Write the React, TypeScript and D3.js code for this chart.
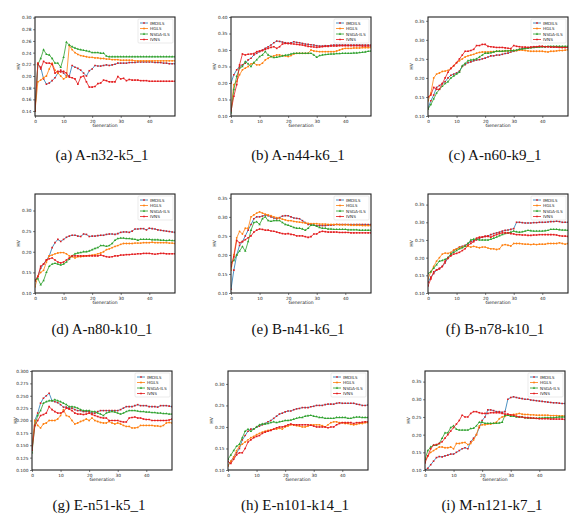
import React, { useEffect, useRef } from 'react';
import * as d3 from 'd3';

// series names, drawn in this order (IVNS ends on top)
const seriesNames = ['IMOILS', 'HGLS', 'NSGA-ILS', 'IVNS'];
const panelTags = ['(a)', '(b)', '(c)', '(d)', '(e)', '(f)', '(g)', '(h)', '(i)'];
const panelNames = ['A-n32-k5_1', 'A-n44-k6_1', 'A-n60-k9_1', 'A-n80-k10_1', 'B-n41-k6_1', 'B-n78-k10_1', 'E-n51-k5_1', 'E-n101-k14_1', 'M-n121-k7_1'];

// y axis limits and ticks per panel
const yLimits = [[0.1315, 0.301], [0.10, 0.40], [0.10, 0.36], [0.10, 0.34], [0.10, 0.36], [0.10, 0.38], [0.10, 0.30], [0.10, 0.33], [0.10, 0.38]];
const yTickValues = [
    [0.14, 0.16, 0.18, 0.20, 0.22, 0.24, 0.26, 0.28, 0.30],
    [0.10, 0.15, 0.20, 0.25, 0.30, 0.35, 0.40],
    [0.10, 0.15, 0.20, 0.25, 0.30, 0.35],
    [0.10, 0.15, 0.20, 0.25, 0.30],
    [0.10, 0.15, 0.20, 0.25, 0.30, 0.35],
    [0.10, 0.15, 0.20, 0.25, 0.30, 0.35],
    [0.100, 0.125, 0.150, 0.175, 0.200, 0.225, 0.250, 0.275, 0.300],
    [0.10, 0.15, 0.20, 0.25, 0.30],
    [0.10, 0.15, 0.20, 0.25, 0.30, 0.35],
];
const xTickValues = [0, 10, 20, 30, 40];

// HV per generation (0..49)
const aIMOILS = [0.14, 0.22, 0.215, 0.195, 0.186, 0.188, 0.192, 0.197, 0.205, 0.21, 0.205, 0.2, 0.2, 0.218, 0.215, 0.213, 0.21, 0.205, 0.2, 0.209, 0.212, 0.218, 0.217, 0.217, 0.218, 0.219, 0.218, 0.219, 0.22, 0.222, 0.222, 0.222, 0.222, 0.223, 0.223, 0.223, 0.224, 0.224, 0.224, 0.224, 0.224, 0.224, 0.223, 0.223, 0.223, 0.222, 0.222, 0.221, 0.221, 0.221];
const aHGLS = [0.14, 0.19, 0.193, 0.197, 0.2, 0.212, 0.222, 0.21, 0.205, 0.2, 0.195, 0.198, 0.252, 0.245, 0.24, 0.237, 0.235, 0.234, 0.233, 0.232, 0.232, 0.231, 0.231, 0.23, 0.23, 0.229, 0.229, 0.228, 0.228, 0.228, 0.227, 0.227, 0.227, 0.227, 0.227, 0.226, 0.226, 0.226, 0.226, 0.226, 0.226, 0.226, 0.226, 0.226, 0.226, 0.226, 0.226, 0.226, 0.226, 0.226];
const aNSGA = [0.14, 0.22, 0.23, 0.245, 0.237, 0.236, 0.23, 0.222, 0.222, 0.215, 0.232, 0.258, 0.253, 0.25, 0.248, 0.246, 0.245, 0.244, 0.243, 0.242, 0.24, 0.24, 0.24, 0.239, 0.239, 0.234, 0.233, 0.233, 0.233, 0.233, 0.233, 0.233, 0.233, 0.233, 0.233, 0.233, 0.233, 0.233, 0.233, 0.233, 0.233, 0.233, 0.233, 0.233, 0.233, 0.233, 0.233, 0.233, 0.233, 0.233];
const aIVNS = [0.14, 0.222, 0.212, 0.225, 0.222, 0.222, 0.22, 0.205, 0.208, 0.207, 0.208, 0.205, 0.198, 0.197, 0.195, 0.186, 0.198, 0.2, 0.19, 0.181, 0.181, 0.182, 0.187, 0.188, 0.193, 0.192, 0.19, 0.19, 0.19, 0.199, 0.195, 0.196, 0.192, 0.194, 0.193, 0.193, 0.193, 0.192, 0.192, 0.192, 0.191, 0.191, 0.191, 0.191, 0.191, 0.191, 0.191, 0.191, 0.191, 0.191];

const bIMOILS = [0.2, 0.225, 0.24, 0.25, 0.255, 0.26, 0.27, 0.275, 0.285, 0.29, 0.295, 0.3, 0.305, 0.31, 0.315, 0.322, 0.327, 0.326, 0.324, 0.322, 0.32, 0.322, 0.325, 0.323, 0.322, 0.32, 0.318, 0.317, 0.316, 0.315, 0.313, 0.312, 0.312, 0.313, 0.313, 0.314, 0.315, 0.315, 0.315, 0.315, 0.315, 0.315, 0.315, 0.315, 0.315, 0.315, 0.315, 0.315, 0.315, 0.315];
const bHGLS = [0.12, 0.195, 0.205, 0.225, 0.24, 0.245, 0.25, 0.258, 0.26, 0.255, 0.255, 0.26, 0.27, 0.275, 0.28, 0.282, 0.285, 0.285, 0.283, 0.282, 0.28, 0.283, 0.288, 0.29, 0.29, 0.29, 0.29, 0.29, 0.3, 0.297, 0.296, 0.295, 0.295, 0.295, 0.295, 0.295, 0.295, 0.297, 0.3, 0.303, 0.305, 0.305, 0.305, 0.306, 0.306, 0.306, 0.307, 0.307, 0.307, 0.307];
const bNSGA = [0.11, 0.18, 0.22, 0.245, 0.25, 0.265, 0.258, 0.25, 0.262, 0.27, 0.28, 0.285, 0.295, 0.285, 0.28, 0.277, 0.278, 0.28, 0.282, 0.284, 0.285, 0.288, 0.29, 0.29, 0.29, 0.29, 0.29, 0.29, 0.29, 0.285, 0.278, 0.283, 0.285, 0.286, 0.287, 0.288, 0.288, 0.289, 0.289, 0.29, 0.29, 0.29, 0.29, 0.291, 0.291, 0.292, 0.293, 0.294, 0.296, 0.297];
const bIVNS = [0.115, 0.16, 0.195, 0.255, 0.288, 0.285, 0.287, 0.288, 0.289, 0.295, 0.297, 0.298, 0.302, 0.305, 0.308, 0.31, 0.305, 0.31, 0.318, 0.32, 0.32, 0.319, 0.318, 0.317, 0.316, 0.315, 0.313, 0.311, 0.31, 0.309, 0.308, 0.309, 0.31, 0.311, 0.311, 0.312, 0.312, 0.312, 0.313, 0.313, 0.313, 0.313, 0.313, 0.313, 0.313, 0.313, 0.312, 0.312, 0.312, 0.312];

const cIMOILS = [0.12, 0.14, 0.155, 0.175, 0.18, 0.185, 0.19, 0.2, 0.207, 0.21, 0.213, 0.218, 0.23, 0.235, 0.24, 0.242, 0.245, 0.247, 0.248, 0.25, 0.252, 0.255, 0.258, 0.258, 0.26, 0.26, 0.262, 0.264, 0.265, 0.268, 0.27, 0.272, 0.275, 0.277, 0.278, 0.28, 0.28, 0.281, 0.281, 0.282, 0.282, 0.282, 0.282, 0.282, 0.281, 0.281, 0.281, 0.28, 0.28, 0.28];
const cHGLS = [0.14, 0.16, 0.2, 0.21, 0.213, 0.217, 0.218, 0.22, 0.225, 0.232, 0.24, 0.245, 0.25, 0.255, 0.258, 0.26, 0.262, 0.265, 0.267, 0.268, 0.268, 0.268, 0.269, 0.269, 0.27, 0.27, 0.27, 0.271, 0.271, 0.272, 0.272, 0.272, 0.273, 0.273, 0.272, 0.271, 0.27, 0.27, 0.27, 0.27, 0.27, 0.269, 0.268, 0.27, 0.27, 0.271, 0.272, 0.272, 0.273, 0.274];
const cNSGA = [0.118, 0.13, 0.145, 0.16, 0.17, 0.178, 0.185, 0.19, 0.2, 0.205, 0.21, 0.215, 0.232, 0.238, 0.245, 0.247, 0.248, 0.25, 0.255, 0.26, 0.265, 0.265, 0.266, 0.268, 0.27, 0.27, 0.27, 0.271, 0.271, 0.272, 0.272, 0.273, 0.275, 0.276, 0.277, 0.278, 0.279, 0.28, 0.281, 0.281, 0.282, 0.282, 0.283, 0.283, 0.283, 0.283, 0.283, 0.283, 0.283, 0.283];
const cIVNS = [0.15, 0.155, 0.175, 0.17, 0.17, 0.185, 0.2, 0.215, 0.225, 0.232, 0.24, 0.25, 0.26, 0.27, 0.27, 0.272, 0.275, 0.285, 0.285, 0.288, 0.288, 0.283, 0.282, 0.281, 0.28, 0.28, 0.28, 0.279, 0.278, 0.277, 0.285, 0.283, 0.282, 0.281, 0.281, 0.28, 0.281, 0.282, 0.282, 0.283, 0.283, 0.282, 0.282, 0.281, 0.281, 0.281, 0.28, 0.28, 0.28, 0.28];

const dIMOILS = [0.13, 0.14, 0.16, 0.17, 0.18, 0.19, 0.21, 0.222, 0.23, 0.225, 0.23, 0.235, 0.238, 0.24, 0.24, 0.238, 0.237, 0.243, 0.242, 0.237, 0.238, 0.238, 0.239, 0.24, 0.24, 0.242, 0.243, 0.243, 0.242, 0.244, 0.247, 0.248, 0.248, 0.247, 0.25, 0.255, 0.255, 0.256, 0.256, 0.253, 0.257, 0.256, 0.255, 0.253, 0.252, 0.251, 0.25, 0.249, 0.248, 0.247];
const dHGLS = [0.115, 0.14, 0.15, 0.155, 0.175, 0.19, 0.192, 0.195, 0.197, 0.198, 0.198, 0.195, 0.19, 0.188, 0.185, 0.188, 0.188, 0.189, 0.19, 0.191, 0.192, 0.193, 0.195, 0.197, 0.2, 0.205, 0.207, 0.21, 0.213, 0.215, 0.218, 0.22, 0.22, 0.22, 0.22, 0.221, 0.221, 0.221, 0.222, 0.222, 0.222, 0.223, 0.222, 0.222, 0.222, 0.222, 0.222, 0.221, 0.221, 0.22];
const dNSGA = [0.13, 0.135, 0.12, 0.13, 0.15, 0.165, 0.17, 0.172, 0.17, 0.168, 0.17, 0.175, 0.182, 0.19, 0.195, 0.197, 0.198, 0.2, 0.2, 0.202, 0.205, 0.208, 0.21, 0.215, 0.215, 0.213, 0.215, 0.22, 0.228, 0.232, 0.233, 0.233, 0.232, 0.232, 0.231, 0.23, 0.228, 0.23, 0.23, 0.23, 0.23, 0.229, 0.229, 0.229, 0.228, 0.228, 0.227, 0.228, 0.227, 0.227];
const dIVNS = [0.13, 0.14, 0.165, 0.17, 0.18, 0.183, 0.185, 0.18, 0.175, 0.173, 0.175, 0.18, 0.185, 0.19, 0.19, 0.19, 0.19, 0.19, 0.19, 0.19, 0.19, 0.19, 0.19, 0.192, 0.19, 0.188, 0.187, 0.188, 0.19, 0.19, 0.192, 0.192, 0.193, 0.193, 0.194, 0.194, 0.195, 0.195, 0.196, 0.196, 0.196, 0.195, 0.194, 0.195, 0.196, 0.196, 0.195, 0.195, 0.195, 0.195];

const eIMOILS = [0.11, 0.16, 0.2, 0.225, 0.235, 0.25, 0.265, 0.28, 0.295, 0.3, 0.3, 0.302, 0.305, 0.303, 0.3, 0.297, 0.295, 0.298, 0.302, 0.303, 0.303, 0.3, 0.297, 0.296, 0.295, 0.29, 0.285, 0.28, 0.28, 0.278, 0.277, 0.277, 0.277, 0.277, 0.278, 0.278, 0.279, 0.28, 0.28, 0.28, 0.28, 0.28, 0.28, 0.28, 0.28, 0.28, 0.28, 0.28, 0.28, 0.28];
const eHGLS = [0.16, 0.2, 0.245, 0.262, 0.255, 0.27, 0.27, 0.3, 0.305, 0.31, 0.313, 0.31, 0.307, 0.305, 0.303, 0.3, 0.298, 0.296, 0.294, 0.292, 0.29, 0.29, 0.288, 0.287, 0.286, 0.285, 0.284, 0.283, 0.282, 0.282, 0.282, 0.281, 0.281, 0.281, 0.28, 0.28, 0.28, 0.28, 0.279, 0.279, 0.279, 0.279, 0.278, 0.278, 0.278, 0.278, 0.277, 0.277, 0.277, 0.277];
const eNSGA = [0.18, 0.185, 0.2, 0.21, 0.222, 0.21, 0.235, 0.265, 0.285, 0.287, 0.28, 0.295, 0.3, 0.29, 0.288, 0.29, 0.29, 0.29, 0.285, 0.28, 0.278, 0.275, 0.272, 0.27, 0.27, 0.268, 0.265, 0.27, 0.278, 0.278, 0.275, 0.272, 0.27, 0.27, 0.268, 0.268, 0.267, 0.267, 0.267, 0.267, 0.267, 0.266, 0.266, 0.266, 0.266, 0.265, 0.265, 0.265, 0.265, 0.265];
const eIVNS = [0.17, 0.195, 0.238, 0.232, 0.235, 0.24, 0.245, 0.25, 0.26, 0.265, 0.268, 0.267, 0.265, 0.265, 0.263, 0.262, 0.26, 0.258, 0.256, 0.255, 0.256, 0.254, 0.253, 0.25, 0.25, 0.25, 0.248, 0.246, 0.248, 0.255, 0.255, 0.26, 0.262, 0.261, 0.26, 0.26, 0.26, 0.26, 0.259, 0.259, 0.259, 0.259, 0.258, 0.258, 0.258, 0.258, 0.258, 0.258, 0.258, 0.258];

const fIMOILS = [0.13, 0.145, 0.155, 0.165, 0.17, 0.175, 0.185, 0.2, 0.21, 0.22, 0.225, 0.23, 0.232, 0.235, 0.24, 0.245, 0.248, 0.25, 0.255, 0.258, 0.26, 0.262, 0.265, 0.268, 0.27, 0.272, 0.275, 0.277, 0.278, 0.28, 0.282, 0.3, 0.3, 0.299, 0.298, 0.298, 0.298, 0.299, 0.299, 0.3, 0.3, 0.3, 0.301, 0.302, 0.302, 0.303, 0.302, 0.3, 0.3, 0.3];
const fHGLS = [0.14, 0.16, 0.175, 0.19, 0.2, 0.21, 0.213, 0.212, 0.215, 0.222, 0.225, 0.228, 0.23, 0.232, 0.232, 0.23, 0.232, 0.23, 0.228, 0.23, 0.23, 0.227, 0.225, 0.225, 0.223, 0.225, 0.235, 0.237, 0.235, 0.233, 0.24, 0.24, 0.24, 0.239, 0.238, 0.238, 0.237, 0.238, 0.237, 0.238, 0.238, 0.238, 0.24, 0.24, 0.24, 0.24, 0.242, 0.24, 0.238, 0.24];
const fNSGA = [0.155, 0.16, 0.17, 0.18, 0.19, 0.192, 0.195, 0.2, 0.21, 0.215, 0.22, 0.225, 0.228, 0.232, 0.24, 0.25, 0.252, 0.253, 0.25, 0.25, 0.25, 0.25, 0.252, 0.255, 0.258, 0.262, 0.265, 0.268, 0.27, 0.272, 0.275, 0.273, 0.272, 0.273, 0.275, 0.277, 0.276, 0.275, 0.275, 0.275, 0.275, 0.276, 0.277, 0.28, 0.28, 0.28, 0.279, 0.278, 0.278, 0.277];
const fIVNS = [0.12, 0.14, 0.16, 0.165, 0.168, 0.175, 0.19, 0.198, 0.205, 0.21, 0.212, 0.215, 0.22, 0.225, 0.235, 0.24, 0.245, 0.255, 0.258, 0.258, 0.26, 0.26, 0.258, 0.262, 0.265, 0.268, 0.27, 0.27, 0.27, 0.268, 0.267, 0.265, 0.265, 0.264, 0.264, 0.263, 0.263, 0.264, 0.264, 0.265, 0.265, 0.265, 0.265, 0.265, 0.265, 0.264, 0.262, 0.261, 0.261, 0.26];

const gIMOILS = [0.14, 0.2, 0.215, 0.235, 0.245, 0.25, 0.255, 0.24, 0.238, 0.236, 0.232, 0.227, 0.227, 0.225, 0.225, 0.222, 0.22, 0.22, 0.218, 0.218, 0.218, 0.215, 0.215, 0.218, 0.22, 0.22, 0.22, 0.22, 0.22, 0.22, 0.22, 0.222, 0.225, 0.228, 0.228, 0.228, 0.23, 0.232, 0.23, 0.23, 0.23, 0.228, 0.228, 0.228, 0.227, 0.23, 0.23, 0.23, 0.229, 0.228];
const gHGLS = [0.15, 0.2, 0.19, 0.185, 0.193, 0.195, 0.2, 0.2, 0.2, 0.203, 0.21, 0.222, 0.21, 0.208, 0.2, 0.193, 0.195, 0.198, 0.2, 0.203, 0.2, 0.205, 0.2, 0.198, 0.196, 0.195, 0.195, 0.198, 0.195, 0.193, 0.195, 0.193, 0.19, 0.188, 0.188, 0.185, 0.185, 0.186, 0.19, 0.19, 0.19, 0.19, 0.19, 0.189, 0.189, 0.188, 0.19, 0.195, 0.196, 0.195];
const gNSGA = [0.135, 0.19, 0.21, 0.22, 0.235, 0.238, 0.24, 0.24, 0.242, 0.24, 0.238, 0.235, 0.232, 0.228, 0.228, 0.227, 0.225, 0.222, 0.22, 0.22, 0.22, 0.218, 0.218, 0.215, 0.213, 0.21, 0.215, 0.217, 0.218, 0.217, 0.215, 0.213, 0.215, 0.218, 0.22, 0.22, 0.22, 0.219, 0.218, 0.218, 0.217, 0.217, 0.216, 0.216, 0.215, 0.215, 0.214, 0.214, 0.213, 0.213];
const gIVNS = [0.14, 0.19, 0.2, 0.21, 0.212, 0.215, 0.228, 0.222, 0.218, 0.215, 0.215, 0.218, 0.225, 0.223, 0.22, 0.215, 0.213, 0.213, 0.212, 0.213, 0.215, 0.212, 0.21, 0.208, 0.206, 0.205, 0.205, 0.2, 0.2, 0.2, 0.2, 0.198, 0.197, 0.197, 0.205, 0.206, 0.207, 0.205, 0.205, 0.203, 0.202, 0.202, 0.2, 0.2, 0.2, 0.2, 0.2, 0.2, 0.201, 0.203];

const hIMOILS = [0.11, 0.12, 0.13, 0.14, 0.15, 0.17, 0.18, 0.19, 0.195, 0.195, 0.2, 0.202, 0.205, 0.208, 0.212, 0.215, 0.22, 0.225, 0.23, 0.232, 0.235, 0.237, 0.237, 0.24, 0.242, 0.243, 0.245, 0.245, 0.245, 0.247, 0.248, 0.25, 0.25, 0.25, 0.252, 0.253, 0.253, 0.253, 0.255, 0.256, 0.255, 0.255, 0.255, 0.255, 0.255, 0.253, 0.252, 0.25, 0.25, 0.251];
const hHGLS = [0.11, 0.12, 0.13, 0.145, 0.155, 0.16, 0.165, 0.17, 0.175, 0.178, 0.182, 0.185, 0.188, 0.19, 0.192, 0.193, 0.195, 0.195, 0.197, 0.195, 0.2, 0.202, 0.205, 0.205, 0.203, 0.202, 0.2, 0.2, 0.202, 0.205, 0.205, 0.205, 0.205, 0.203, 0.2, 0.205, 0.21, 0.212, 0.212, 0.21, 0.21, 0.208, 0.208, 0.206, 0.205, 0.206, 0.208, 0.208, 0.21, 0.21];
const hNSGA = [0.125, 0.135, 0.145, 0.155, 0.16, 0.175, 0.19, 0.195, 0.19, 0.195, 0.2, 0.205, 0.207, 0.207, 0.208, 0.21, 0.212, 0.21, 0.212, 0.213, 0.215, 0.215, 0.216, 0.218, 0.22, 0.222, 0.222, 0.225, 0.226, 0.227, 0.225, 0.224, 0.222, 0.222, 0.22, 0.22, 0.22, 0.22, 0.222, 0.222, 0.222, 0.222, 0.22, 0.22, 0.222, 0.223, 0.223, 0.222, 0.222, 0.222];
const hIVNS = [0.12, 0.115, 0.125, 0.135, 0.14, 0.14, 0.15, 0.165, 0.17, 0.175, 0.178, 0.18, 0.185, 0.188, 0.19, 0.192, 0.195, 0.198, 0.2, 0.2, 0.202, 0.205, 0.207, 0.205, 0.205, 0.205, 0.205, 0.205, 0.205, 0.204, 0.202, 0.2, 0.2, 0.2, 0.2, 0.198, 0.2, 0.2, 0.205, 0.208, 0.21, 0.21, 0.21, 0.21, 0.208, 0.21, 0.21, 0.211, 0.212, 0.212];

const iIMOILS = [0.1, 0.105, 0.115, 0.125, 0.135, 0.138, 0.137, 0.14, 0.142, 0.145, 0.145, 0.15, 0.155, 0.16, 0.163, 0.16, 0.18, 0.19, 0.2, 0.22, 0.24, 0.25, 0.27, 0.27, 0.268, 0.265, 0.265, 0.263, 0.265, 0.3, 0.305, 0.307, 0.305, 0.303, 0.302, 0.3, 0.3, 0.298, 0.297, 0.296, 0.295, 0.294, 0.293, 0.292, 0.291, 0.29, 0.29, 0.289, 0.288, 0.288];
const iHGLS = [0.125, 0.14, 0.15, 0.155, 0.16, 0.165, 0.165, 0.163, 0.163, 0.165, 0.16, 0.175, 0.175, 0.177, 0.178, 0.172, 0.175, 0.185, 0.2, 0.225, 0.228, 0.228, 0.23, 0.23, 0.232, 0.235, 0.245, 0.25, 0.252, 0.255, 0.255, 0.257, 0.258, 0.26, 0.258, 0.257, 0.257, 0.256, 0.256, 0.255, 0.255, 0.255, 0.255, 0.255, 0.254, 0.254, 0.254, 0.253, 0.253, 0.253];
const iNSGA = [0.13, 0.155, 0.165, 0.17, 0.17, 0.175, 0.19, 0.205, 0.205, 0.22, 0.225, 0.215, 0.213, 0.213, 0.213, 0.213, 0.217, 0.218, 0.225, 0.235, 0.235, 0.232, 0.232, 0.232, 0.232, 0.232, 0.233, 0.235, 0.255, 0.255, 0.252, 0.252, 0.25, 0.25, 0.25, 0.248, 0.247, 0.247, 0.246, 0.246, 0.247, 0.247, 0.248, 0.248, 0.248, 0.248, 0.249, 0.25, 0.25, 0.25];
const iIVNS = [0.12, 0.14, 0.16, 0.17, 0.172, 0.175, 0.18, 0.19, 0.2, 0.21, 0.22, 0.23, 0.24, 0.255, 0.25, 0.25, 0.26, 0.265, 0.265, 0.262, 0.26, 0.26, 0.26, 0.262, 0.262, 0.262, 0.262, 0.26, 0.258, 0.258, 0.256, 0.255, 0.252, 0.25, 0.25, 0.248, 0.248, 0.247, 0.247, 0.246, 0.245, 0.245, 0.245, 0.245, 0.244, 0.244, 0.244, 0.244, 0.244, 0.243];

const panelSeries = [
    [aIMOILS, aHGLS, aNSGA, aIVNS],
    [bIMOILS, bHGLS, bNSGA, bIVNS],
    [cIMOILS, cHGLS, cNSGA, cIVNS],
    [dIMOILS, dHGLS, dNSGA, dIVNS],
    [eIMOILS, eHGLS, eNSGA, eIVNS],
    [fIMOILS, fHGLS, fNSGA, fIVNS],
    [gIMOILS, gHGLS, gNSGA, gIVNS],
    [hIMOILS, hHGLS, hNSGA, hIVNS],
    [iIMOILS, iHGLS, iNSGA, iIVNS],
];

// style per series: line colour, marker colour, marker shape
const lineColors = ['#1f77b4', '#ff7f0e', '#2ca02c', '#e31a1c'];
const markerColors = ['#e31a1c', '#ff7f0e', '#2ca02c', '#e31a1c'];
const markerShapes = [d3.symbolSquare, d3.symbolCircle, d3.symbolTriangle, d3.symbolSquare];

// grid layout
const colLeft = [[35, 231, 428], [35, 231, 428], [32, 228, 425]];
const rowTop = [17, 194, 371];
const captionOffset = [143, 140, 139];
const plotW = 140;
const plotH = 99;

export default function App() {
    const svgRef = useRef<SVGSVGElement>(null);

    useEffect(() => {
        if (!svgRef.current) return;
        const svg = d3.select(svgRef.current);
        svg.selectAll("*").remove();

        svg.append("rect").attr("width", 576).attr("height", 523).attr("fill", "#fff");

        panelNames.forEach((name, p) => {
            const row = Math.floor(p / 3);
            const col = p % 3;
            const left = colLeft[row][col];
            const top = rowTop[row];

            const g = svg.append("g").attr("transform", `translate(${left},${top})`);

            const x = d3.scaleLinear().domain([0, 49]).range([0, plotW]);
            const y = d3.scaleLinear().domain(yLimits[p]).range([plotH, 0]);
            const fmt = p === 6 ? d3.format(".3f") : d3.format(".2f");

            const plot = g.append("g");
            plot.append("clipPath").attr("id", `clip${p}`)
                .append("rect").attr("width", plotW).attr("height", plotH);

            const line = d3.line<number>()
                .x((d, i) => x(i))
                .y(d => y(d));

            panelSeries[p].forEach((vals, s) => {
                const sg = plot.append("g").attr("clip-path", `url(#clip${p})`);
                sg.append("path")
                    .datum(vals)
                    .attr("d", line)
                    .attr("fill", "none")
                    .attr("stroke", lineColors[s])
                    .attr("stroke-width", 0.8);
                sg.selectAll("path.mk")
                    .data(vals)
                    .join("path")
                    .attr("class", "mk")
                    .attr("transform", (d, i) => `translate(${x(i)},${y(d)})`)
                    .attr("d", d3.symbol().type(markerShapes[s]).size(2.6)())
                    .attr("fill", markerColors[s]);
            });

            // axes
            const xAxis = g.append("g")
                .attr("transform", `translate(0,${plotH})`)
                .call(d3.axisBottom(x).tickValues(xTickValues).tickSize(2).tickPadding(1.5).tickFormat(d3.format("d")));
            const yAxis = g.append("g")
                .call(d3.axisLeft(y).tickValues(yTickValues[p]).tickSize(2).tickPadding(1.5).tickFormat(d => fmt(d as number)));
            [xAxis, yAxis].forEach(ax => {
                ax.select(".domain").remove();
                ax.selectAll("line").attr("stroke", "#000").attr("stroke-width", 0.5);
                ax.selectAll("text").attr("font-size", 4.3).attr("font-family", "DejaVu Sans").attr("fill", "#222");
            });

            g.append("rect")
                .attr("width", plotW).attr("height", plotH)
                .attr("fill", "none").attr("stroke", "#222").attr("stroke-width", 1.1);

            g.append("text")
                .attr("x", plotW / 2).attr("y", plotH + 11)
                .attr("text-anchor", "middle")
                .attr("font-family", "DejaVu Sans").attr("font-size", 4.5).attr("fill", "#222")
                .text("Generation");
            g.append("text")
                .attr("transform", `translate(-15,${plotH / 2}) rotate(-90)`)
                .attr("text-anchor", "middle")
                .attr("font-family", "DejaVu Sans").attr("font-size", 4.5).attr("fill", "#222")
                .text("HV");

            // legend
            const lg = g.append("g").attr("transform", `translate(${plotW - 37},2)`);
            lg.append("rect")
                .attr("width", 35).attr("height", 24).attr("rx", 1)
                .attr("fill", "#fff").attr("fill-opacity", 0.85)
                .attr("stroke", "#ccc").attr("stroke-width", 0.4);
            seriesNames.forEach((sn, s) => {
                const ly = 4 + s * 5.5;
                lg.append("line")
                    .attr("x1", 2).attr("x2", 10).attr("y1", ly).attr("y2", ly)
                    .attr("stroke", lineColors[s]).attr("stroke-width", 0.8);
                lg.append("path")
                    .attr("transform", `translate(6,${ly})`)
                    .attr("d", d3.symbol().type(markerShapes[s]).size(2.6)())
                    .attr("fill", markerColors[s]);
                lg.append("text")
                    .attr("x", 12).attr("y", ly + 1.5)
                    .attr("font-family", "DejaVu Sans").attr("font-size", 4.2).attr("fill", "#222")
                    .text(sn);
            });

            // caption
            svg.append("text")
                .attr("x", left + plotW / 2 - 3).attr("y", top + captionOffset[row])
                .attr("text-anchor", "middle")
                .attr("font-family", "Liberation Serif").attr("font-size", 15)
                .attr("fill", "#111")
                .text(`${panelTags[p]} ${name}`);
        });
    }, []);

    return (
        <div style={{ position: 'absolute', left: 0, top: 0 }}>
            <svg ref={svgRef} width={576} height={523} />
        </div>
    );
}
